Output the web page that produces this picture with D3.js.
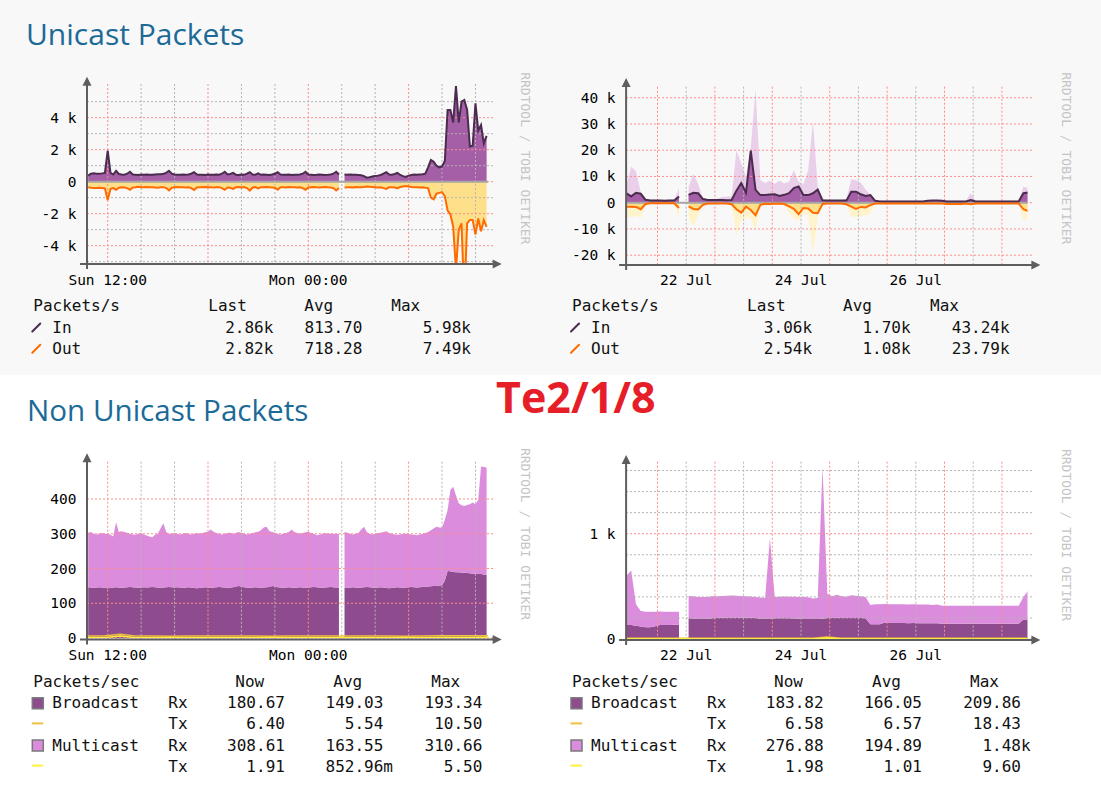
<!DOCTYPE html>
<html>
<head>
<meta charset="utf-8">
<script src="https://cdn.jsdelivr.net/npm/d3@7"></script>
<style>
  body { margin: 0; background: #fff; }
  svg { display: block; }
</style>
</head>
<body>
<script>
// ---------- data ----------

// day graphs: 10 minute samples from Sun 27 Jul 10:50 (UTC)
const dayStart = Date.UTC(2025, 6, 27, 10, 50);
const dayStep = 10;

// unicast packets/s, "Out" kept positive, drawn below the axis
const uniDayIn = [
  380, 500, 520, 500, 500, 520, 550, 1950, 550, 450,
  680, 480, 450, 440, 500, 620, 450, 440, 420, 450,
  430, 450, 440, 430, 450, 460, 470, 500, 550, 680,
  500, 450, 430, 440, 450, 430, 450, 500, 600, 450,
  430, 440, 420, 450, 440, 430, 450, 440, 500, 620,
  450, 480, 550, 440, 420, 450, 430, 500, 600, 450,
  440, 520, 430, 450, 440, 420, 450, 500, 600, 450,
  430, 440, 450, 420, 440, 430, 450, 500, 620, 450,
  440, 420, 430, 450, 440, 420, 430, 450, 500, 620,
  450, null, 450, 440, 450, 430, 440, 420, 400, 350,
  250, 280, 320, 350, 380, 420, 500, 600, 450, 440,
  480, 550, 420, 350, 300, 380, 420, 450, 440, 450,
  460, 500, 900, 1360, 1250, 1000, 900, 950, 1300, 4480,
  4480, 3700, 5980, 3700, 5000, 5100, 4500, 2200, 2250, 4900,
  3200, 3540, 2400, 2860
];
const uniDayOut = [
  350, 380, 400, 400, 380, 400, 420, 1150, 450, 400,
  500, 380, 350, 360, 400, 500, 360, 350, 320, 350,
  340, 330, 350, 340, 360, 380, 350, 340, 400, 550,
  380, 350, 330, 350, 340, 360, 350, 400, 520, 360,
  340, 350, 330, 350, 340, 360, 350, 340, 400, 500,
  360, 380, 450, 350, 330, 360, 340, 400, 550, 360,
  340, 420, 340, 350, 330, 340, 360, 380, 500, 350,
  340, 360, 330, 350, 340, 360, 350, 400, 500, 360,
  340, 330, 350, 360, 340, 330, 350, 360, 400, 550,
  400, null, 360, 350, 340, 360, 330, 350, 340, 330,
  300, 320, 330, 340, 360, 350, 400, 450, 350, 340,
  360, 400, 330, 300, 270, 300, 330, 350, 340, 360,
  350, 380, 400, 1000, 1100, 750, 700, 650, 900, 1800,
  2050, 2800, 5500, 3000, 2600, 7490, 2600, 2400, 2400, 3300,
  2300, 3100, 2400, 2820
];

// non unicast packets/sec (Rx), stacked: broadcast then multicast
const dayBcast = [
  146, 145, 144, 145, 146, 145, 144, 143, 144, 145,
  146, 145, 144, 145, 146, 147, 146, 145, 144, 145,
  146, 145, 146, 147, 146, 145, 144, 145, 146, 147,
  146, 145, 146, 145, 144, 145, 146, 145, 144, 143,
  144, 145, 146, 145, 144, 145, 146, 147, 146, 145,
  144, 145, 146, 148, 150, 148, 146, 145, 144, 145,
  146, 145, 144, 145, 146, 147, 150, 148, 146, 145,
  144, 145, 146, 145, 144, 145, 146, 145, 144, 145,
  146, 147, 146, 145, 144, 145, 146, 147, 146, 145,
  145, null, 145, 144, 145, 146, 145, 144, 145, 146,
  147, 146, 145, 144, 145, 146, 145, 144, 143, 144,
  145, 146, 145, 144, 145, 146, 147, 146, 145, 146,
  147, 148, 148, 149, 150, 150, 151, 152, 165, 193,
  192, 190, 189, 189, 188, 188, 187, 186, 185, 185,
  184, 184, 183, 181
];
const dayMcast = [
  157, 160, 156, 153, 154, 157, 155, 157, 153, 147,
  187, 160, 163, 160, 157, 153, 152, 152, 156, 157,
  152, 150, 146, 143, 151, 155, 172, 185, 159, 153,
  154, 157, 154, 153, 156, 157, 154, 153, 156, 159,
  156, 157, 158, 161, 168, 161, 156, 153, 152, 155,
  158, 158, 154, 154, 155, 155, 154, 153, 156, 157,
  158, 161, 166, 173, 174, 161, 155, 155, 154, 153,
  156, 157, 159, 167, 161, 157, 154, 157, 160, 161,
  156, 153, 150, 152, 156, 157, 154, 154, 154, 154,
  155, null, 160, 159, 155, 152, 155, 158, 167, 174,
  158, 154, 153, 156, 157, 157, 160, 163, 159, 156,
  153, 151, 153, 156, 155, 153, 151, 151, 151, 152,
  153, 154, 157, 161, 165, 170, 167, 166, 175, 175,
  234, 245, 221, 199, 194, 192, 196, 199, 205, 200,
  214, 309, 310, 309
];
// Tx lines, hourly from 10:45
const dayTxStart = Date.UTC(2025, 6, 27, 10, 45);
const dayBcastTx = [5.5, 5.8, 10.5, 5.4, 5.6, 5.3, 5.5, 5.7, 5.4, 5.6, 5.5, 5.3, 5.4,
  5.6, 5.5, 5.7, 5.4, 5.5, 5.6, 5.3, 5.8, 6.2, 6.8, 6.5, 6.4];
const dayMcastTx = [0.8, 0.9, 5.5, 0.7, 0.8, 0.9, 0.8, 0.7, 0.8, 0.9, 0.8, 0.7, 0.8,
  0.9, 0.8, 0.8, 0.7, 0.9, 0.8, 0.8, 0.9, 1.2, 1.5, 1.8, 1.9];

// week graphs: 2 hour samples from Mon 21 Jul 11:00 (UTC)
const weekStart = Date.UTC(2025, 6, 21, 11, 0);
const weekStep = 120;

const uniWeekIn = [
  3600, 2400, 3800, 3400, 1100,
  800, 800, 800, 700, 800, 800, 2400,
  null,
  3000, 3800, 3600, 1400, 1000, 1000, 1000, 1000, 900, 1000,
  4600, 7500, 3800, 19800, 4900, 2900, 2900, 3100, 3200, 2600,
  3000, 3600, 5600, 6200, 2900, 2900, 3600, 5000, 900, 800,
  800, 800, 800, 800, 4200, 4200, 3200, 2600, 2900, 700,
  450, 450, 450, 450, 450, 450, 450, 450, 450, 450,
  700, 800, 800, 700, 450, 450, 450, 450, 450, 1000,
  450, 450, 450, 450, 450, 450, 450, 450, 450, 450,
  3600, 3900
];
const uniWeekInMax = [
  6700, 13700, 12000, 4000, 1500,
  1200, 1200, 1200, 1200, 1200, 1200, 5500,
  null,
  6000, 11000, 7000, 1800, 1300, 1300, 1500, 2300, 2300, 2500,
  20000, 15000, 9800, 21000, 43240, 8600, 7500, 8400, 7200, 8400,
  7400, 8000, 12400, 8000, 7000, 12400, 30900, 6100, 1500, 1000,
  1000, 1000, 1000, 1500, 8900, 8600, 7600, 5000, 3000, 1200,
  800, 800, 800, 800, 800, 800, 800, 800, 800, 800,
  1000, 1000, 1000, 1000, 800, 800, 800, 800, 800, 3600,
  800, 800, 800, 800, 800, 800, 800, 800, 800, 800,
  6100, 5600
];
const uniWeekOut = [
  1500, 1500, 1600, 2500, 500,
  250, 250, 250, 250, 250, 250, 2000,
  null,
  1400, 2400, 2600, 800, 300, 300, 300, 300, 300, 600,
  2500, 3800, 1500, 2800, 4800, 800, 400, 500, 400, 300,
  500, 1400, 2300, 4400, 2000, 2200, 3800, 4000, 500, 300,
  300, 300, 300, 600, 1500, 2400, 1600, 1800, 900, 300,
  300, 300, 300, 300, 300, 300, 300, 300, 300, 300,
  300, 300, 300, 300, 500, 500, 500, 500, 300, 600,
  300, 300, 300, 300, 300, 300, 300, 300, 300, 300,
  2500, 3200
];
const uniWeekOutMax = [
  5400, 5400, 5000, 6000, 800,
  500, 500, 500, 500, 500, 500, 6000,
  null,
  6000, 9100, 5000, 1000, 500, 500, 500, 500, 500, 1000,
  12300, 7000, 5400, 6000, 11000, 1200, 800, 800, 800, 800,
  800, 4000, 6000, 6700, 4000, 5000, 20000, 5000, 800, 500,
  500, 500, 500, 500, 5400, 5400, 5000, 4800, 4000, 600,
  500, 500, 500, 500, 500, 500, 500, 500, 500, 500,
  500, 500, 500, 500, 800, 800, 800, 800, 500, 1000,
  500, 500, 500, 500, 500, 500, 500, 500, 500, 500,
  6700, 6000
];

const weekBcast = [
  133, 132, 125, 118, 112, 112, 120, 133, 134, 134, 135, 137,
  null,
  196, 195, 190, 189, 192, 198, 200, 202, 203, 203,
  204, 203, 202, 201, 199, 192, 190, 191, 196, 197,
  197, 196, 195, 192, 190, 189, 190, 191, 193, 199,
  200, 201, 200, 200, 199, 200, 200, 198, 139, 140,
  140, 156, 153, 152, 152, 151, 150, 151, 150, 150,
  150, 149, 150, 146, 146, 145, 146, 146, 145, 146,
  146, 145, 146, 146, 145, 146, 146, 145, 146, 146,
  185, 184
];
const weekMcast = [
  467, 518, 205, 147, 146, 146, 138, 127, 125, 125, 124, 122,
  null,
  212, 210, 210, 209, 208, 207, 207, 206, 207, 209,
  206, 205, 204, 203, 201, 203, 200, 765, 204, 205,
  206, 206, 207, 208, 208, 207, 195, 199, 1443, 231,
  205, 219, 205, 202, 216, 210, 205, 202, 183, 190,
  190, 176, 178, 178, 178, 178, 178, 178, 178, 178,
  178, 175, 178, 170, 170, 170, 170, 170, 170, 170,
  170, 170, 170, 170, 170, 170, 170, 170, 170, 170,
  215, 276
];
// Tx lines, every 6 hours from 21 Jul 11:00
const weekTxStep = 360;
const weekBcastTx = [6.5, 6.6, 6.5, 6.7, 6.6, 6.5, 6.4, 6.6, 6.8, 6.5, 6.6, 6.7, 6.5, 6.6,
  18.4, 6.5, 6.6, 6.5, 6.4, 6.6, 6.5, 6.7, 6.6, 6.5, 6.5, 6.6, 6.5, 6.6, 6.6];
const weekMcastTx = [1.0, 1.1, 0.9, 1.0, 1.2, 1.0, 0.9, 1.0, 1.1, 1.0, 0.9, 1.0, 1.0, 1.1,
  9.6, 1.0, 0.9, 1.0, 1.1, 1.0, 1.0, 0.9, 1.0, 1.0, 1.1, 1.0, 0.9, 1.2, 2.0];

// y ticks
const uniDayMajor = [-4000, -2000, 0, 2000, 4000];
const uniDayMinor = [-5000, -3000, -1000, 1000, 3000, 5000];
const uniWeekMajor = [-20000, -10000, 0, 10000, 20000, 30000, 40000];
const nonDayMajor = [0, 100, 200, 300, 400];
const nonWeekMajor = [0, 1000];
const nonWeekMinor = [200, 400, 600, 800, 1200, 1400, 1600];

// legends
const uniDayLegend = [["In", "2.86k", "813.70", "5.98k"], ["Out", "2.82k", "718.28", "7.49k"]];
const uniWeekLegend = [["In", "3.06k", "1.70k", "43.24k"], ["Out", "2.54k", "1.08k", "23.79k"]];
const nonDayLegend = [
  ["Broadcast", "Rx", "180.67", "149.03", "193.34"],
  ["", "Tx", "6.40", "5.54", "10.50"],
  ["Multicast", "Rx", "308.61", "163.55", "310.66"],
  ["", "Tx", "1.91", "852.96m", "5.50"]
];
const nonWeekLegend = [
  ["Broadcast", "Rx", "183.82", "166.05", "209.86"],
  ["", "Tx", "6.58", "6.57", "18.43"],
  ["Multicast", "Rx", "276.88", "194.89", "1.48k"],
  ["", "Tx", "1.98", "1.01", "9.60"]
];

// ---------- drawing ----------
const width = 1101;
const height = 792;
const mono = "'DejaVu Sans Mono', monospace";

const colors = {
  inArea: "#a45fa6",
  inLine: "#4b2c4e",
  inMax: "#eacfea",
  outArea: "#ffe08a",
  outLine: "#ff6b00",
  outMax: "#fff3cc",
  bcast: "#8e4c8e",
  mcast: "#dc8cdc",
  bcastTx: "#f0c040",
  mcastTx: "#fff040",
  gridMajor: "#ff8a8a",
  gridMinor: "#b4b4b4",
  axis: "#5e5e5e"
};

let svg = d3.select("body")
  .append("svg")
  .attr("width", width)
  .attr("height", height);

let defs = svg.append("defs");

// grey band behind the unicast section
svg.append("rect")
  .attr("x", 0).attr("y", 0)
  .attr("width", width).attr("height", 375)
  .attr("fill", "#f8f8f8");

svg.append("text")
  .text("Unicast Packets")
  .attr("x", 26).attr("y", 45)
  .style("font-family", "'Open Sans', sans-serif")
  .style("font-size", "30px")
  .attr("fill", "#1b6a97");

svg.append("text")
  .text("Non Unicast Packets")
  .attr("x", 27).attr("y", 421)
  .style("font-family", "'Open Sans', sans-serif")
  .style("font-size", "29.6px")
  .attr("fill", "#1b6a97");

svg.append("text")
  .text("Te2/1/8")
  .attr("x", 496).attr("y", 413)
  .style("font-family", "'Open Sans', sans-serif")
  .style("font-weight", 700)
  .style("font-size", "43px")
  .attr("fill", "#e61e28");

function toPoints(start, stepMin, values) {
  return values.map((v, i) => ({ t: new Date(start + i * stepMin * 60000), v: v }));
}

const isDef = d => d.v != null;

function makePanel(cfg) {
  let x = d3.scaleUtc().domain(cfg.xDomain).range(cfg.xRange);
  let y = d3.scaleLinear().domain(cfg.yDomain).range(cfg.yRange);
  let g = svg.append("g");

  defs.append("clipPath")
    .attr("id", "clip-" + cfg.id)
    .append("rect")
    .attr("x", cfg.x0)
    .attr("y", cfg.top)
    .attr("width", cfg.x1 - cfg.x0 + 1)
    .attr("height", cfg.bottom - cfg.top);

  let areas = g.append("g").attr("clip-path", `url(#clip-${cfg.id})`);
  let grid = g.append("g");
  let lines = g.append("g").attr("clip-path", `url(#clip-${cfg.id})`);
  let axes = g.append("g");

  return { cfg, x, y, areas, grid, lines, axes };
}

function drawGrid(p) {
  let { cfg, x, y } = p;

  // vertical time grid
  let times = cfg.every.range(x.invert(cfg.x0 + 3), x.invert(cfg.x1 - 2));
  p.grid.selectAll("line.v")
    .data(times)
    .join("line")
    .attr("class", "v")
    .attr("x1", d => x(d)).attr("x2", d => x(d))
    .attr("y1", cfg.top).attr("y2", cfg.axisY)
    .attr("stroke", d => cfg.isMajor(d) ? colors.gridMajor : colors.gridMinor)
    .attr("stroke-dasharray", "2,2");

  // horizontal value grid
  let hLines = cfg.major.map(v => ({ v, major: true }))
    .concat(cfg.minor.map(v => ({ v, major: false })));
  p.grid.selectAll("line.h")
    .data(hLines)
    .join("line")
    .attr("class", "h")
    .attr("x1", cfg.x0).attr("x2", cfg.x1 + 6)
    .attr("y1", d => y(d.v)).attr("y2", d => y(d.v))
    .attr("stroke", d => d.major ? colors.gridMajor : colors.gridMinor)
    .attr("stroke-dasharray", "2,2");

  // y labels
  p.axes.selectAll("text.ylab")
    .data(cfg.major)
    .join("text")
    .attr("class", "ylab")
    .text(cfg.yFormat)
    .attr("x", cfg.x0 - 10.5)
    .attr("y", d => y(d) + 5)
    .attr("text-anchor", "end")
    .style("font-family", mono)
    .style("font-size", "14.5px")
    .attr("fill", "#000");

  // x labels
  let labels = times.filter(cfg.isLabel);
  p.axes.selectAll("text.xlab")
    .data(labels)
    .join("text")
    .attr("class", "xlab")
    .text(cfg.xFormat)
    .attr("x", d => x(d))
    .attr("y", cfg.labelY)
    .attr("text-anchor", "middle")
    .style("font-family", mono)
    .style("font-size", "14.5px")
    .attr("fill", "#000");
}

function drawAxes(p) {
  let { cfg } = p;
  let a = p.axes;
  a.append("line")
    .attr("x1", cfg.x0).attr("x2", cfg.x0)
    .attr("y1", cfg.axisY + 5).attr("y2", cfg.arrowTop + 6)
    .attr("stroke", colors.axis).attr("stroke-width", 2);
  a.append("path")
    .attr("d", `M${cfg.x0},${cfg.arrowTop} L${cfg.x0 - 4.5},${cfg.arrowTop + 9} L${cfg.x0 + 4.5},${cfg.arrowTop + 9} Z`)
    .attr("fill", colors.axis);
  a.append("line")
    .attr("x1", cfg.x0 - 7).attr("x2", cfg.arrowRight - 6)
    .attr("y1", cfg.axisY).attr("y2", cfg.axisY)
    .attr("stroke", colors.axis).attr("stroke-width", 2);
  a.append("path")
    .attr("d", `M${cfg.arrowRight},${cfg.axisY} L${cfg.arrowRight - 9},${cfg.axisY - 4.5} L${cfg.arrowRight - 9},${cfg.axisY + 4.5} Z`)
    .attr("fill", colors.axis);

  // watermark
  a.append("text")
    .text("RRDTOOL / TOBI OETIKER")
    .attr("transform", `translate(${cfg.markX}, ${cfg.markY}) rotate(90)`)
    .attr("text-anchor", "middle")
    .attr("dy", "0.35em")
    .style("font-family", mono)
    .style("font-size", "13px")
    .attr("fill", "#c4c4c4");
}

function zeroLine(p) {
  p.grid.append("line")
    .attr("x1", p.cfg.x0).attr("x2", p.cfg.x1 + 1)
    .attr("y1", p.y(0)).attr("y2", p.y(0))
    .attr("stroke", "#a6a6a6").attr("stroke-width", 2);
}

function areaPath(p, pts, lo, hi) {
  return d3.area()
    .defined(isDef)
    .x(d => p.x(d.t))
    .y0(d => p.y(lo(d)))
    .y1(d => p.y(hi(d)))(pts);
}

function linePath(p, pts, val) {
  return d3.line()
    .defined(isDef)
    .x(d => p.x(d.t))
    .y(d => p.y(val(d)))(pts);
}

const dayTimeCfg = {
  xDomain: [new Date(Date.UTC(2025, 6, 27, 12)), new Date(Date.UTC(2025, 6, 28, 0))],
  xRange: [107.7, 308.3],
  every: d3.utcHour.every(2),
  isMajor: d => d.getUTCHours() % 6 === 0,
  isLabel: d => d.getUTCHours() % 12 === 0,
  xFormat: d3.utcFormat("%a %H:%M")
};
const weekTimeCfg = {
  xDomain: [new Date(Date.UTC(2025, 6, 22)), new Date(Date.UTC(2025, 6, 28))],
  xRange: [657.5, 1001.9],
  every: d3.utcHour.every(12),
  isMajor: d => d.getUTCHours() === 0,
  isLabel: d => d.getUTCHours() === 12 && d.getUTCDate() % 2 === 0,
  xFormat: d3.utcFormat("%d %b")
};

const kFormat = d => d === 0 ? "0" : `${d / 1000} k`;

// ---- graph 1: unicast, day ----
let g1 = makePanel(Object.assign({
  id: "g1", x0: 87, x1: 487, top: 84, bottom: 264, axisY: 264,
  yDomain: [0, 4000], yRange: [181.7, 117.7],
  major: uniDayMajor, minor: uniDayMinor, yFormat: kFormat,
  labelY: 284.5, arrowTop: 76.7, arrowRight: 501.7, markX: 526, markY: 158.3
}, dayTimeCfg));
{
  let inPts = toPoints(dayStart, dayStep, uniDayIn);
  let outPts = toPoints(dayStart, dayStep, uniDayOut);
  g1.areas.append("path").attr("d", areaPath(g1, inPts, () => 0, d => d.v)).attr("fill", colors.inArea);
  g1.areas.append("path").attr("d", areaPath(g1, outPts, () => 0, d => -d.v)).attr("fill", colors.outArea);
  drawGrid(g1);
  zeroLine(g1);
  g1.lines.append("path").attr("d", linePath(g1, inPts, d => d.v))
    .attr("fill", "none").attr("stroke", colors.inLine).attr("stroke-width", 2);
  g1.lines.append("path").attr("d", linePath(g1, outPts, d => -d.v))
    .attr("fill", "none").attr("stroke", colors.outLine).attr("stroke-width", 2);
  drawAxes(g1);
}

// ---- graph 2: unicast, week ----
let g2 = makePanel(Object.assign({
  id: "g2", x0: 626.1, x1: 1026.5, top: 86.7, bottom: 265, axisY: 265,
  yDomain: [0, 40000], yRange: [202.7, 97.7],
  major: uniWeekMajor, minor: [], yFormat: kFormat,
  labelY: 284.5, arrowTop: 78, arrowRight: 1040.4, markX: 1066.3, markY: 158.3
}, weekTimeCfg));
{
  let inPts = toPoints(weekStart, weekStep, uniWeekIn);
  let inMaxPts = toPoints(weekStart, weekStep, uniWeekInMax);
  let outPts = toPoints(weekStart, weekStep, uniWeekOut);
  let outMaxPts = toPoints(weekStart, weekStep, uniWeekOutMax);
  g2.areas.append("path").attr("d", areaPath(g2, inMaxPts, () => 0, d => d.v)).attr("fill", colors.inMax);
  g2.areas.append("path").attr("d", areaPath(g2, outMaxPts, () => 0, d => -d.v)).attr("fill", colors.outMax);
  g2.areas.append("path").attr("d", areaPath(g2, inPts, () => 0, d => d.v)).attr("fill", colors.inArea);
  g2.areas.append("path").attr("d", areaPath(g2, outPts, () => 0, d => -d.v)).attr("fill", colors.outArea);
  drawGrid(g2);
  zeroLine(g2);
  g2.lines.append("path").attr("d", linePath(g2, inPts, d => d.v))
    .attr("fill", "none").attr("stroke", colors.inLine).attr("stroke-width", 2);
  g2.lines.append("path").attr("d", linePath(g2, outPts, d => -d.v))
    .attr("fill", "none").attr("stroke", colors.outLine).attr("stroke-width", 2);
  drawAxes(g2);
}

// ---- graph 3: non unicast, day ----
let g3 = makePanel(Object.assign({
  id: "g3", x0: 87, x1: 487, top: 461.7, bottom: 638, axisY: 639.5,
  yDomain: [0, 400], yRange: [638, 499],
  major: nonDayMajor, minor: [], yFormat: d => String(d),
  labelY: 660, arrowTop: 453.3, arrowRight: 501.7, markX: 526, markY: 534
}, dayTimeCfg));
{
  let pts = toPoints(dayStart, dayStep, dayBcast)
    .map((d, i) => ({ t: d.t, b: d.v, m: dayMcast[i], v: d.v }));
  g3.areas.append("path").attr("d", areaPath(g3, pts, () => 0, d => d.b)).attr("fill", colors.bcast);
  g3.areas.append("path").attr("d", areaPath(g3, pts, d => d.b, d => d.b + d.m)).attr("fill", colors.mcast);
  drawGrid(g3);
  let bTx = toPoints(dayTxStart, 60, dayBcastTx);
  let mTx = toPoints(dayTxStart, 60, dayMcastTx);
  g3.lines.append("path").attr("d", linePath(g3, bTx, d => d.v))
    .attr("fill", "none").attr("stroke", colors.bcastTx).attr("stroke-width", 1.5);
  g3.lines.append("path").attr("d", linePath(g3, mTx, d => d.v))
    .attr("fill", "none").attr("stroke", colors.mcastTx).attr("stroke-width", 1.5);
  drawAxes(g3);
}

// ---- graph 4: non unicast, week ----
let g4 = makePanel(Object.assign({
  id: "g4", x0: 626.1, x1: 1026.5, top: 461.7, bottom: 639, axisY: 640,
  yDomain: [0, 1000], yRange: [639, 533.7],
  major: nonWeekMajor, minor: nonWeekMinor, yFormat: kFormat,
  labelY: 660, arrowTop: 455, arrowRight: 1040.4, markX: 1066.3, markY: 535
}, weekTimeCfg));
{
  let pts = toPoints(weekStart, weekStep, weekBcast)
    .map((d, i) => ({ t: d.t, b: d.v, m: weekMcast[i], v: d.v }));
  g4.areas.append("path").attr("d", areaPath(g4, pts, () => 0, d => d.b)).attr("fill", colors.bcast);
  g4.areas.append("path").attr("d", areaPath(g4, pts, d => d.b, d => d.b + d.m)).attr("fill", colors.mcast);
  drawGrid(g4);
  let bTx = toPoints(weekStart, weekTxStep, weekBcastTx);
  let mTx = toPoints(weekStart, weekTxStep, weekMcastTx);
  g4.lines.append("path").attr("d", linePath(g4, bTx, d => d.v))
    .attr("fill", "none").attr("stroke", colors.bcastTx).attr("stroke-width", 1.5);
  g4.lines.append("path").attr("d", linePath(g4, mTx, d => d.v))
    .attr("fill", "none").attr("stroke", colors.mcastTx).attr("stroke-width", 1.5);
  drawAxes(g4);
}

// ---------- legends ----------
function monoText(g, str, x, y, anchor) {
  return g.append("text")
    .text(str)
    .attr("x", x).attr("y", y)
    .attr("text-anchor", anchor || "start")
    .style("font-family", mono)
    .style("font-size", "16px")
    .attr("fill", "#111");
}

// numbers are right aligned, a unit suffix hangs to the right
function valueText(g, str, right, y) {
  let m = str.match(/^([\d.]+)([a-zA-Z]?)$/);
  monoText(g, m[1], right, y, "end");
  if (m[2]) monoText(g, m[2], right, y, "start");
}

function uniLegend(lx, rows) {
  let g = svg.append("g");
  monoText(g, "Packets/s", lx, 311);
  monoText(g, "Last", lx + 175, 311);
  monoText(g, "Avg", lx + 271, 311);
  monoText(g, "Max", lx + 358, 311);
  let cols = [230.4, 329, 428];
  let lineColors = [colors.inLine, colors.outLine];
  rows.forEach((r, i) => {
    let y = 333 + i * 21.3;
    g.append("line")
      .attr("x1", lx - 1).attr("y1", y - 1.5)
      .attr("x2", lx + 7).attr("y2", y - 9.5)
      .attr("stroke", lineColors[i]).attr("stroke-width", 2)
      .attr("stroke-linecap", "round");
    monoText(g, r[0], lx + 19, y);
    r.slice(1).forEach((v, j) => valueText(g, v, lx + cols[j], y));
  });
}

function nonLegend(lx, rows) {
  let g = svg.append("g");
  monoText(g, "Packets/sec", lx, 687);
  monoText(g, "Now", lx + 202, 687);
  monoText(g, "Avg", lx + 300, 687);
  monoText(g, "Max", lx + 398, 687);
  let cols = [251.6, 350, 449];
  let keys = [colors.bcast, colors.bcastTx, colors.mcast, colors.mcastTx];
  rows.forEach((r, i) => {
    let y = 708.3 + i * 21.1;
    if (i % 2 === 0) {
      g.append("rect")
        .attr("x", lx - 1).attr("y", y - 10.5)
        .attr("width", 11).attr("height", 11)
        .attr("fill", keys[i])
        .attr("stroke", "#7a7a7a").attr("stroke-width", 1.5);
    } else {
      g.append("line")
        .attr("x1", lx - 1.5).attr("x2", lx + 10)
        .attr("y1", y - 6).attr("y2", y - 6)
        .attr("stroke", keys[i]).attr("stroke-width", 2);
    }
    if (r[0]) monoText(g, r[0], lx + 19, y);
    monoText(g, r[1], lx + 135, y);
    r.slice(2).forEach((v, j) => valueText(g, v, lx + cols[j], y));
  });
}

uniLegend(33.3, uniDayLegend);
uniLegend(572, uniWeekLegend);
nonLegend(33.3, nonDayLegend);
nonLegend(572, nonWeekLegend);
</script>
</body>
</html>
